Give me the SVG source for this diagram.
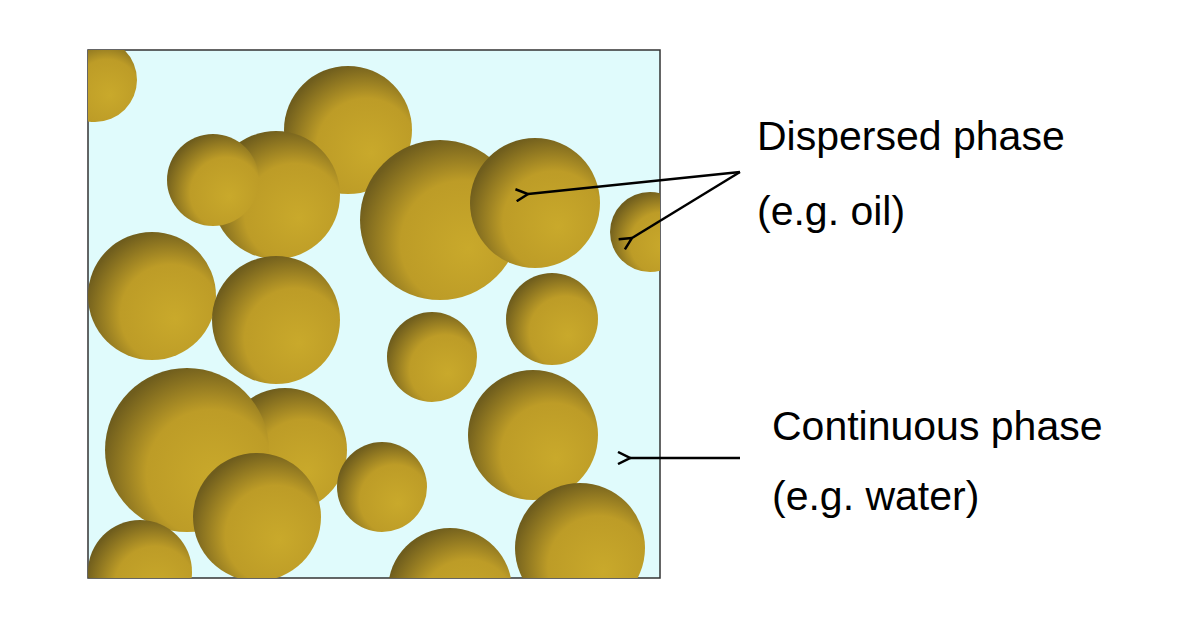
<svg xmlns="http://www.w3.org/2000/svg" width="1200" height="630" viewBox="0 0 1200 630">
<defs>
<radialGradient id="g" cx="0.62" cy="0.62" r="0.65" fx="0.68" fy="0.68">
<stop offset="0" stop-color="#c9a92b"/><stop offset="0.6" stop-color="#bd9c27"/><stop offset="1" stop-color="#6f5d1d"/>
</radialGradient>
<clipPath id="c"><rect x="88" y="50" width="572" height="528"/></clipPath>
<marker id="a" markerWidth="14" markerHeight="14" refX="1" refY="7" orient="auto-start-reverse" markerUnits="userSpaceOnUse">
<path d="M13,1 L1,7 L13,13" fill="none" stroke="#000" stroke-width="2.5"/>
</marker>
<style>.d{fill:url(#g)} text{font-family:"Liberation Sans",Arial,sans-serif;font-size:41px;fill:#000} .l{stroke:#000;stroke-width:2.5;fill:none}</style>
</defs>
<rect width="1200" height="630" fill="#fff"/>
<rect x="88" y="50" width="572" height="528" fill="#e0fbfc" stroke="#333" stroke-width="1.5"/>
<g clip-path="url(#c)">
<circle class="d" cx="95" cy="80" r="42"/>
<circle class="d" cx="348" cy="130" r="64"/>
<circle class="d" cx="276" cy="195" r="64"/>
<circle class="d" cx="213" cy="180" r="46"/>
<circle class="d" cx="440" cy="220" r="80"/>
<circle class="d" cx="535" cy="203" r="65"/>
<circle class="d" cx="650" cy="232" r="40"/>
<circle class="d" cx="152" cy="296" r="64"/>
<circle class="d" cx="276" cy="320" r="64"/>
<circle class="d" cx="432" cy="357" r="45"/>
<circle class="d" cx="552" cy="319" r="46"/>
<circle class="d" cx="533" cy="435" r="65"/>
<circle class="d" cx="285" cy="450" r="62"/>
<circle class="d" cx="187" cy="450" r="82"/>
<circle class="d" cx="257" cy="517" r="64"/>
<circle class="d" cx="382" cy="487" r="45"/>
<circle class="d" cx="140" cy="572" r="52"/>
<circle class="d" cx="450" cy="590" r="62"/>
<circle class="d" cx="580" cy="548" r="65"/>
</g>
<g id="connectors">
<line class="l" x1="528" y1="194" x2="740" y2="172" marker-start="url(#a)"/>
<line class="l" x1="632" y1="238" x2="740" y2="172" marker-start="url(#a)"/>
<line class="l" x1="630" y1="458" x2="740" y2="458" marker-start="url(#a)"/>
</g>
<g id="labels">
<text x="757" y="150">Dispersed phase</text>
<text x="757" y="225">(e.g. oil)</text>
<text x="772" y="440">Continuous phase</text>
<text x="772" y="510">(e.g. water)</text>
</g>
</svg>
